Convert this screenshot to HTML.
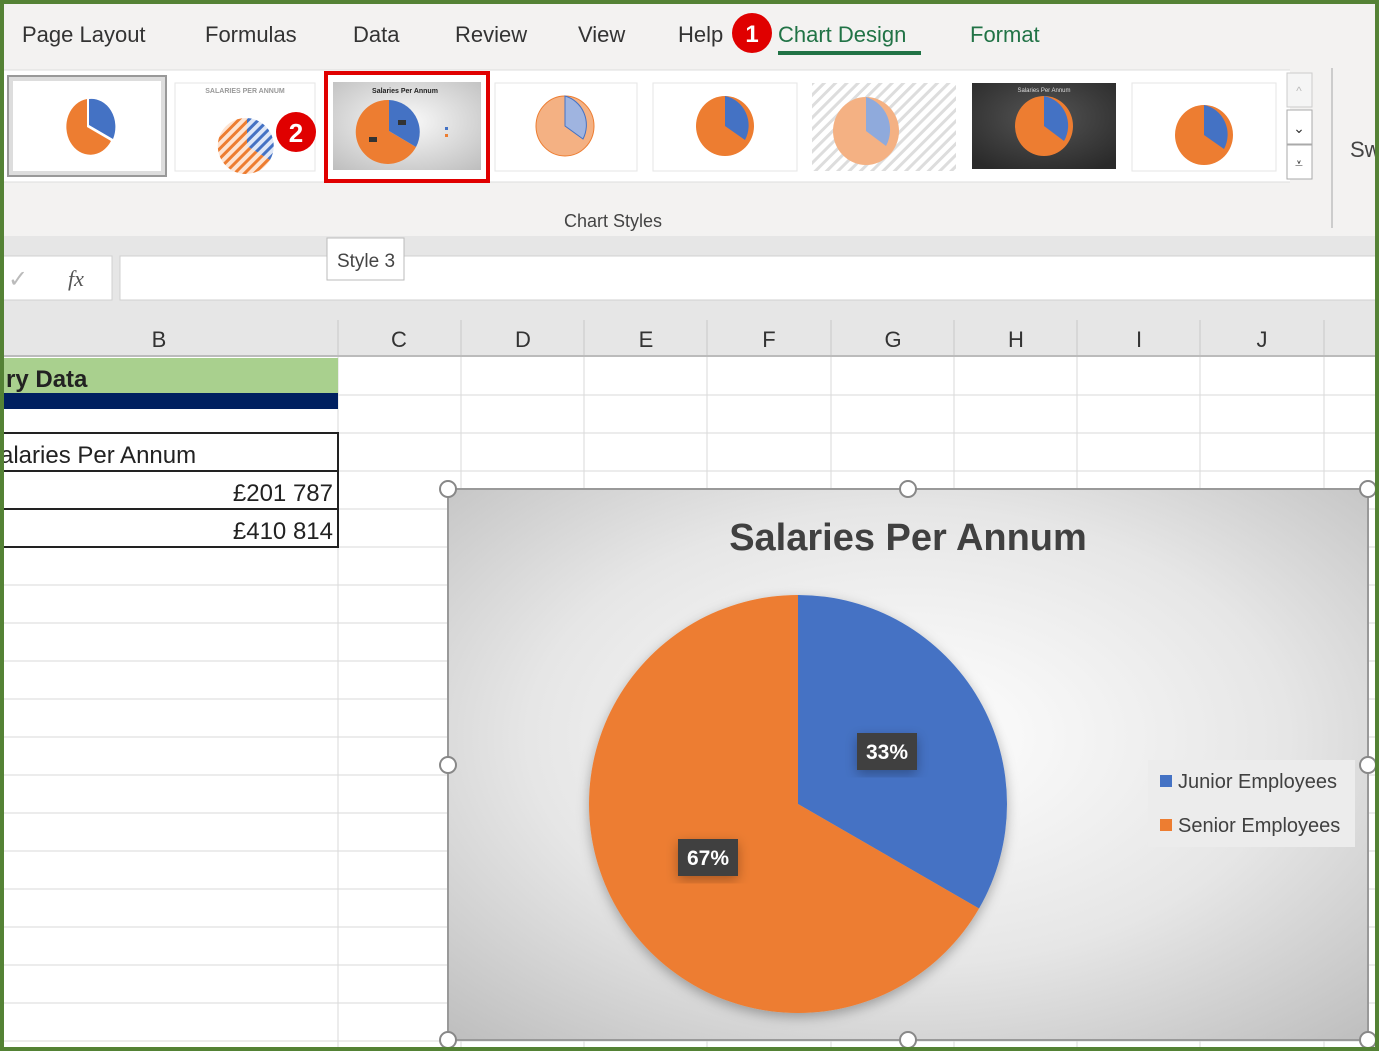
<!DOCTYPE html>
<html><head><meta charset="utf-8"><style>
html,body{margin:0;padding:0;background:#fff}
svg{display:block;font-family:"Liberation Sans","DejaVu Sans",sans-serif}
</style></head><body>
<svg width="1379" height="1051" viewBox="0 0 1379 1051" xmlns="http://www.w3.org/2000/svg">
<defs>
<radialGradient id="cg" cx="0.5" cy="0.45" r="0.75">
<stop offset="0" stop-color="#ffffff"/><stop offset="0.55" stop-color="#e6e6e6"/><stop offset="1" stop-color="#bdbdbd"/>
</radialGradient>
<radialGradient id="tg" cx="0.5" cy="0.45" r="0.75">
<stop offset="0" stop-color="#fafafa"/><stop offset="1" stop-color="#bdbdbd"/>
</radialGradient>
<radialGradient id="dg" cx="0.5" cy="0.4" r="0.7">
<stop offset="0" stop-color="#555"/><stop offset="1" stop-color="#2a2a2a"/>
</radialGradient>
<pattern id="hatch" width="8" height="8" patternUnits="userSpaceOnUse" patternTransform="rotate(45)">
<rect width="8" height="8" fill="#fff"/><rect width="3" height="8" fill="#ddd"/></pattern>
<pattern id="ho" width="7" height="7" patternUnits="userSpaceOnUse" patternTransform="rotate(45)">
<rect width="7" height="7" fill="#fde4d3"/><rect width="3" height="7" fill="#ed7d31"/></pattern>
<pattern id="hb" width="7" height="7" patternUnits="userSpaceOnUse" patternTransform="rotate(45)">
<rect width="7" height="7" fill="#dfe7f6"/><rect width="3" height="7" fill="#4472c4"/></pattern>
<filter id="sh" x="-20%" y="-20%" width="140%" height="140%"><feDropShadow dx="0" dy="4" stdDeviation="6" flood-opacity="0.3"/></filter>
</defs>
<rect x="0" y="0" width="1379" height="240" fill="#f3f2f1"/>
<g font-size="22" fill="#333">
<text x="22" y="42">Page Layout</text>
<text x="205" y="42">Formulas</text>
<text x="353" y="42">Data</text>
<text x="455" y="42">Review</text>
<text x="578" y="42">View</text>
<text x="678" y="42">Help</text>
<text x="778" y="42" fill="#217346">Chart Design</text>
<text x="970" y="42" fill="#217346">Format</text>
</g>
<rect x="778" y="51" width="143" height="4" fill="#217346"/>
<circle cx="752" cy="33" r="20" fill="#e00000"/>
<text x="752" y="42" font-size="24" fill="#fff" text-anchor="middle" font-weight="bold">1</text>
<rect x="0" y="70" width="1290" height="112" fill="#fff"/>
<line x1="0" y1="70" x2="1290" y2="70" stroke="#ddd"/>
<line x1="0" y1="182" x2="1290" y2="182" stroke="#ddd"/>
<rect x="8" y="76" width="158" height="100" fill="#ddd" stroke="#999" stroke-width="2"/>
<rect x="13" y="81" width="148" height="90" fill="#fff"/>
<path d="M87,99 L87,127 L111,141 A24,28 0 1 1 87,99Z" fill="#ed7d31"/><path d="M89,99 A24,28 0 0 1 113,139 L89,125Z" fill="#4472c4"/>
<rect x="175" y="83" width="140" height="88" fill="#fff" stroke="#e5e5e5"/>
<text x="245" y="93" font-size="7" fill="#999" text-anchor="middle" font-weight="bold">SALARIES PER ANNUM</text>
<path d="M247,118 L247,146 L270,160 A28,28 0 1 1 247,118Z" fill="url(#ho)"/>
<path d="M247,118 A28,28 0 0 1 270,160 L247,146Z" fill="url(#hb)"/>
<circle cx="296" cy="132" r="20" fill="#e00000"/><text x="296" y="142" font-size="26" fill="#fff" text-anchor="middle" font-weight="bold">2</text>
<rect x="326" y="73" width="162" height="108" fill="none" stroke="#e00000" stroke-width="4"/>
<rect x="333" y="82" width="148" height="88" fill="url(#tg)"/>
<text x="405" y="93" font-size="7" fill="#222" text-anchor="middle" font-weight="bold">Salaries Per Annum</text>
<path d="M389,100 L389,131 L416,147 A32,32 0 1 1 389,100Z" fill="#ed7d31"/><path d="M389,100 A32,32 0 0 1 416,147 L389,131Z" fill="#4472c4"/>
<rect x="445" y="127" width="3" height="3" fill="#4472c4"/><rect x="445" y="134" width="3" height="3" fill="#ed7d31"/>
<rect x="398" y="120" width="8" height="5" fill="#333"/><rect x="369" y="137" width="8" height="5" fill="#333"/>
<rect x="495" y="83" width="142" height="88" fill="#fff" stroke="#e5e5e5"/>
<ellipse cx="565" cy="126" rx="29" ry="30" fill="#f4b183" stroke="#ed7d31"/><path d="M565,96 A29,30 0 0 1 583,139 L565,126Z" fill="#9fb4e0" stroke="#4472c4"/>
<rect x="653" y="83" width="144" height="88" fill="#fff" stroke="#e5e5e5"/>
<ellipse cx="725" cy="126" rx="29" ry="30" fill="#ed7d31"/><path d="M725,96 A29,30 0 0 1 745,140 L725,126Z" fill="#4472c4"/>
<rect x="812" y="83" width="144" height="88" fill="url(#hatch)"/>
<ellipse cx="866" cy="131" rx="33" ry="34" fill="#f4b183"/><path d="M866,97 A33,34 0 0 1 886,146 L866,131Z" fill="#8faadc"/>
<rect x="972" y="83" width="144" height="86" fill="url(#dg)"/>
<text x="1044" y="92" font-size="6" fill="#ddd" text-anchor="middle">Salaries Per Annum</text>
<ellipse cx="1044" cy="126" rx="29" ry="30" fill="#ed7d31"/><path d="M1044,96 A29,30 0 0 1 1064,141 L1044,126Z" fill="#4472c4"/>
<rect x="1132" y="83" width="144" height="88" fill="#fff" stroke="#e5e5e5"/>
<ellipse cx="1204" cy="135" rx="29" ry="30" fill="#ed7d31"/><path d="M1204,105 A29,30 0 0 1 1224,149 L1204,135Z" fill="#4472c4"/>
<rect x="1287" y="73" width="25" height="34" fill="#f5f5f5" stroke="#ccc"/>
<rect x="1287" y="110" width="25" height="34" fill="#fff" stroke="#aaa"/>
<rect x="1287" y="145" width="25" height="34" fill="#fff" stroke="#aaa"/>
<text x="1299" y="95" font-size="12" fill="#bbb" text-anchor="middle">^</text>
<text x="1299" y="133" font-size="14" fill="#333" text-anchor="middle">⌄</text>
<text x="1299" y="168" font-size="14" fill="#333" text-anchor="middle">⩡</text>
<line x1="1332" y1="68" x2="1332" y2="228" stroke="#ccc" stroke-width="2"/>
<text x="1350" y="157" font-size="22" fill="#444">Sw</text>
<text x="613" y="227" font-size="18" fill="#444" text-anchor="middle">Chart Styles</text>
<rect x="0" y="236" width="1379" height="84" fill="#e6e6e6"/>
<rect x="0" y="256" width="112" height="44" fill="#fff" stroke="#d0d0d0"/>
<text x="8" y="287" font-size="24" fill="#bbb">✓</text>
<text x="68" y="286" font-size="22" fill="#555" font-style="italic" font-family="Liberation Serif">fx</text>
<rect x="120" y="256" width="1259" height="44" fill="#fff" stroke="#d0d0d0"/>
<rect x="327" y="238" width="77" height="42" fill="#fff" stroke="#bbb"/>
<text x="366" y="267" font-size="19" fill="#444" text-anchor="middle">Style 3</text>
<rect x="0" y="320" width="1379" height="37" fill="#e6e6e6"/>
<g stroke="#c8c8c8"><line x1="338" y1="320" x2="338" y2="357"/><line x1="461" y1="320" x2="461" y2="357"/><line x1="584" y1="320" x2="584" y2="357"/><line x1="707" y1="320" x2="707" y2="357"/><line x1="831" y1="320" x2="831" y2="357"/><line x1="954" y1="320" x2="954" y2="357"/><line x1="1077" y1="320" x2="1077" y2="357"/><line x1="1200" y1="320" x2="1200" y2="357"/><line x1="1324" y1="320" x2="1324" y2="357"/></g>
<line x1="0" y1="356" x2="1379" y2="356" stroke="#bbb" stroke-width="2"/>
<g font-size="22" fill="#333" text-anchor="middle">
<text x="159" y="347">B</text><text x="399" y="347">C</text><text x="523" y="347">D</text><text x="646" y="347">E</text><text x="769" y="347">F</text><text x="893" y="347">G</text><text x="1016" y="347">H</text><text x="1139" y="347">I</text><text x="1262" y="347">J</text>
</g>
<g stroke="#dadada">
<line x1="0" y1="395" x2="1379" y2="395"/><line x1="0" y1="433" x2="1379" y2="433"/><line x1="0" y1="471" x2="1379" y2="471"/><line x1="0" y1="509" x2="1379" y2="509"/><line x1="0" y1="547" x2="1379" y2="547"/><line x1="0" y1="585" x2="1379" y2="585"/><line x1="0" y1="623" x2="1379" y2="623"/><line x1="0" y1="661" x2="1379" y2="661"/><line x1="0" y1="699" x2="1379" y2="699"/><line x1="0" y1="737" x2="1379" y2="737"/><line x1="0" y1="775" x2="1379" y2="775"/><line x1="0" y1="813" x2="1379" y2="813"/><line x1="0" y1="851" x2="1379" y2="851"/><line x1="0" y1="889" x2="1379" y2="889"/><line x1="0" y1="927" x2="1379" y2="927"/><line x1="0" y1="965" x2="1379" y2="965"/><line x1="0" y1="1003" x2="1379" y2="1003"/><line x1="0" y1="1041" x2="1379" y2="1041"/>
<line x1="338" y1="357" x2="338" y2="1051"/><line x1="461" y1="357" x2="461" y2="1051"/><line x1="584" y1="357" x2="584" y2="1051"/><line x1="707" y1="357" x2="707" y2="1051"/><line x1="831" y1="357" x2="831" y2="1051"/><line x1="954" y1="357" x2="954" y2="1051"/><line x1="1077" y1="357" x2="1077" y2="1051"/><line x1="1200" y1="357" x2="1200" y2="1051"/><line x1="1324" y1="357" x2="1324" y2="1051"/>
</g>
<rect x="0" y="358" width="338" height="35" fill="#a9d08e"/>
<rect x="0" y="393" width="338" height="16" fill="#002060"/>
<text x="6" y="387" font-size="24" font-weight="bold" fill="#222">ry Data</text>
<g fill="none" stroke="#222" stroke-width="2"><rect x="-2" y="433" width="340" height="114"/><line x1="0" y1="471" x2="338" y2="471"/><line x1="0" y1="509" x2="338" y2="509"/></g>
<g font-size="24" fill="#222"><text x="0" y="463">alaries Per Annum</text><text x="333" y="501" text-anchor="end">£201 787</text><text x="333" y="539" text-anchor="end">£410 814</text></g>
<rect x="448" y="489" width="920" height="551" fill="url(#cg)" stroke="#999" stroke-width="2"/>
<text x="908" y="550" font-size="38" font-weight="bold" fill="#404040" text-anchor="middle">Salaries Per Annum</text>
<g filter="url(#sh)">
<path d="M798,804 L798,595 A209,209 0 0 1 979,908.5 Z" fill="#4472c4"/>
<path d="M798,804 L979,908.5 A209,209 0 1 1 798,595 Z" fill="#ed7d31"/>
</g>
<rect x="857" y="733" width="60" height="37" fill="#404040" filter="url(#sh)"/>
<text x="887" y="759" font-size="21" font-weight="bold" fill="#fff" text-anchor="middle">33%</text>
<rect x="678" y="839" width="60" height="37" fill="#404040" filter="url(#sh)"/>
<text x="708" y="865" font-size="21" font-weight="bold" fill="#fff" text-anchor="middle">67%</text>
<rect x="1148" y="760" width="207" height="87" fill="#ececec"/>
<rect x="1160" y="775" width="12" height="12" fill="#4472c4"/>
<text x="1178" y="788" font-size="20" fill="#404040">Junior Employees</text>
<rect x="1160" y="819" width="12" height="12" fill="#ed7d31"/>
<text x="1178" y="832" font-size="20" fill="#404040">Senior Employees</text>
<g fill="#fff" stroke="#888" stroke-width="2">
<circle cx="448" cy="489" r="8"/><circle cx="908" cy="489" r="8"/><circle cx="1368" cy="489" r="8"/><circle cx="448" cy="765" r="8"/><circle cx="1368" cy="765" r="8"/><circle cx="448" cy="1040" r="8"/><circle cx="908" cy="1040" r="8"/><circle cx="1368" cy="1040" r="8"/>
</g>
<rect x="2" y="2" width="1375" height="1047" fill="none" stroke="#548235" stroke-width="4"/>
</svg>
</body></html>
